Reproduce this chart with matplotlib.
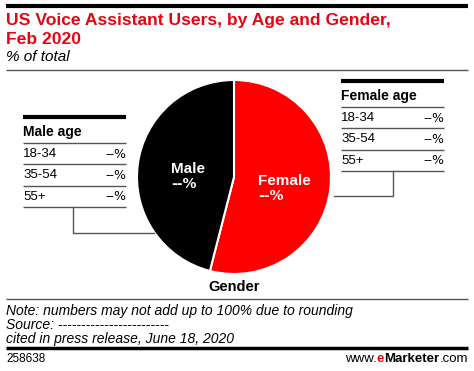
import matplotlib
matplotlib.use('Agg')
import matplotlib.pyplot as plt

# Data
genders = ['Female', 'Male']
shares = [54, 46]
gender_colors = ['#ff0000', '#000000']
gender_values = ['--%', '--%']
age_groups = ['18-34', '35-54', '55+']
male_age_values = ['--%', '--%', '--%']
female_age_values = ['--%', '--%', '--%']

W, H = 474, 371
RED = '#e30613'
FONT = 'Liberation Sans'

fig = plt.figure(figsize=(W / 100, H / 100), dpi=100)
ax = fig.add_axes([0, 0, 1, 1])


def Y(y):
    # pixel row -> data y
    return H - y


def hline(x0, x1, y, lw=1.0, color='#555555'):
    ax.plot([x0, x1], [Y(y), Y(y)], color=color, lw=lw, solid_capstyle='butt')


def txt(x, y, s, size=9, weight='normal', style='normal', color='black', ha='left', family=FONT):
    return ax.text(x, Y(y), s, fontsize=size, fontweight=weight, fontstyle=style,
                   color=color, ha=ha, va='center', family=family)


# Header
hline(6, 468, 6, lw=3, color='black')
txt(6, 21, 'US Voice Assistant Users, by Age and Gender,', size=12.6, weight='bold', color=RED)
txt(6, 39, 'Feb 2020', size=12.6, weight='bold', color=RED)
txt(6, 57, '% of total', size=11, style='italic')
hline(6, 468, 70, lw=1)

# Pie
cx, cy, r = 234, Y(177), 97
wedges, _ = ax.pie(shares, colors=gender_colors, startangle=90, counterclock=False,
                   center=(cx, cy), radius=r,
                   wedgeprops=dict(edgecolor='white', linewidth=1.5))
txt(171, 169, genders[1], size=11, weight='bold', color='white')
txt(171, 184, gender_values[1], size=10, weight='bold', color='white', family='DejaVu Sans')
txt(258, 181, genders[0], size=11, weight='bold', color='white')
txt(258, 196, gender_values[0], size=10, weight='bold', color='white', family='DejaVu Sans')
txt(234, 287, 'Gender', size=10.5, weight='bold', ha='center')


def age_table(x0, x1, top, title, values, link_x, link_y, link_end):
    hline(x0, x1, top, lw=3, color='black')
    txt(x0, top + 15, title, size=10, weight='bold')
    hline(x0, x1, top + 26, lw=1)
    for i, (grp, val) in enumerate(zip(age_groups, values)):
        yy = top + 26 + 21.3 * i
        txt(x0, yy + 11, grp, size=9.5)
        txt(x1, yy + 11, val, size=9, ha='right', family='DejaVu Sans')
        hline(x0, x1, yy + 21.3, lw=1)
    bottom = top + 26 + 21.3 * 3
    ax.plot([link_x, link_x, link_end], [Y(bottom), Y(link_y), Y(link_y)],
            color='#555555', lw=1)


age_table(23, 126, 117, 'Male age', male_age_values, 73, 233, 154)
age_table(341, 444, 81, 'Female age', female_age_values, 393, 196, 334)

# Footer
hline(6, 468, 299, lw=1)
txt(6, 311, 'Note: numbers may not add up to 100% due to rounding', size=10, style='italic')
txt(6, 325, 'Source: ------------------------', size=10, style='italic')
txt(6, 339, 'cited in press release, June 18, 2020', size=10, style='italic')
hline(6, 468, 348, lw=2.5, color='black')
txt(6, 359, '258638', size=8.5)
fx = 468
for part, col, wt in [('.com', 'black', 'normal'), ('Marketer', 'black', 'bold'),
                      ('e', RED, 'bold'), ('www.', 'black', 'normal')]:
    t = txt(fx, 359, part, size=9.5, weight=wt, color=col, ha='right')
    fig.canvas.draw()
    fx -= t.get_window_extent().width

ax.set_xlim(0, W)
ax.set_ylim(0, H)
ax.set_aspect('auto')
ax.axis('off')

fig.savefig('out.png', dpi=100)
